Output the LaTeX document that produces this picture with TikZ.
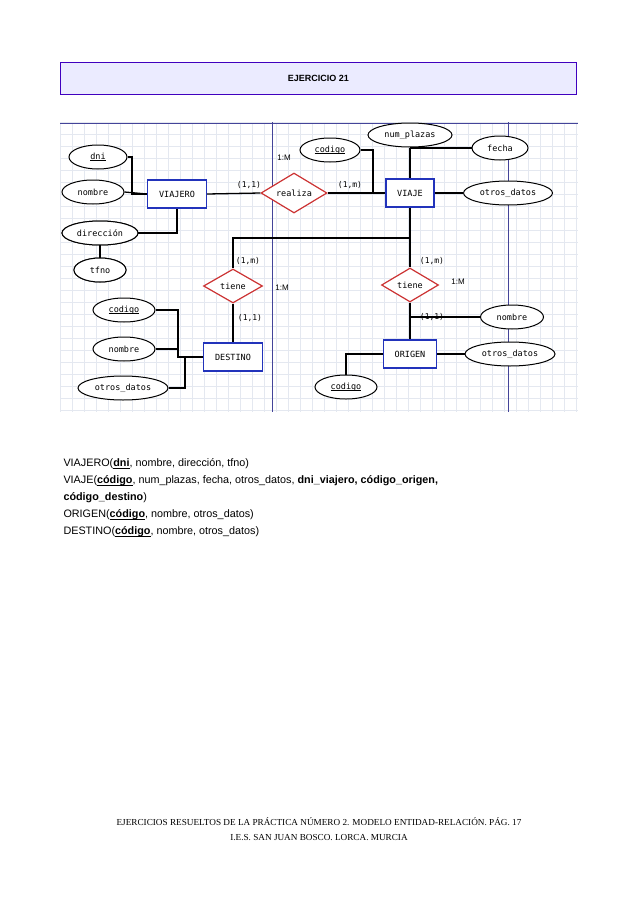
\documentclass[tikz,border=0pt]{standalone}
\usepackage{fontspec}
\setmainfont{Liberation Sans}
\newfontfamily\mono{DejaVu Sans Mono}
\newfontfamily\timesf{Liberation Serif}
\usetikzlibrary{shapes.geometric}
\definecolor{entb}{HTML}{2233BB}
\definecolor{relr}{HTML}{CC3333}
\definecolor{gridc}{HTML}{E4E8F0}
\definecolor{axisb}{HTML}{444499}
\newcommand{\myul}[1]{{\setbox0\hbox{#1}\rlap{\rule[-1.6pt]{\wd0}{0.8pt}}\box0}}
\tikzset{
 attr/.style={ellipse,draw,line width=1pt,fill=white,font=\mono\fontsize{8.5}{9}\selectfont,minimum height=24pt,inner sep=1pt},
 ent/.style={rectangle,draw=entb,line width=1.2pt,fill=white,font=\mono\fontsize{8.5}{9}\selectfont,minimum height=28pt},
 rel/.style={diamond,draw=relr,line width=1.2pt,fill=white,font=\mono\fontsize{8.5}{9}\selectfont,aspect=1.7,inner sep=1pt},
 lnk/.style={line width=1.3pt},
 card/.style={font=\mono\fontsize{8}{9}\selectfont},
 txt/.style={anchor=west,font=\fontsize{10.8}{12}\selectfont},
}
\begin{document}
\begin{tikzpicture}[x=1pt,y=-1pt]
\useasboundingbox (0,0) rectangle (638,902);
% header
\node[draw=violet!50!blue,line width=0.8pt,fill=blue!8,minimum width=516pt,minimum height=32pt,anchor=north west,font=\bfseries\fontsize{9}{10}\selectfont] (hdr) at (60,62) {EJERCICIO 21};
% grid
\foreach \gx in {60,72,...,578} \draw[gridc,line width=0.5pt] (\gx,122) -- (\gx,412);
\foreach \gy in {122,134,...,412} \draw[gridc,line width=0.5pt] (60,\gy) -- (578,\gy);
\draw[axisb,line width=0.8pt] (60,123) -- (578,123);
\draw[axisb,line width=0.8pt] (272,122) -- (272,412);
\draw[axisb,line width=0.8pt] (508,122) -- (508,412);
% nodes
\node[attr,minimum width=58pt] (dni) at (98,157) {\myul{dni}};
\node[attr,minimum width=62pt] (nom1) at (93,192) {nombre};
\node[ent,minimum width=59pt] (viajero) at (177,194) {VIAJERO};
\node[attr,minimum width=76pt] (dir) at (100,233) {dirección};
\node[attr,minimum width=52pt] (tfno) at (100,270) {tfno};
\node[rel,minimum width=66pt,minimum height=40pt] (realiza) at (294,193) {realiza};
\node[attr,minimum width=60pt] (cod1) at (330,150) {\myul{codigo}};
\node[attr,minimum width=84pt] (nump) at (410,135) {num\_plazas};
\node[attr,minimum width=56pt] (fecha) at (500,148) {fecha};
\node[ent,minimum width=48pt] (viaje) at (410,193) {VIAJE};
\node[attr,minimum width=89pt] (otr1) at (508,193) {otros\_datos};
\node[rel,minimum width=59pt,minimum height=34pt] (tiene1) at (233,286) {tiene};
\node[rel,minimum width=57pt,minimum height=34pt] (tiene2) at (410,285) {tiene};
\node[attr,minimum width=62pt] (cod2) at (124,310) {\myul{codigo}};
\node[attr,minimum width=62pt] (nom2) at (124,349) {nombre};
\node[attr,minimum width=90pt] (otr2) at (123,388) {otros\_datos};
\node[ent,minimum width=59pt] (destino) at (233,357) {DESTINO};
\node[ent,minimum width=53pt] (origen) at (410,354) {ORIGEN};
\node[attr,minimum width=63pt] (nom3) at (512,317) {nombre};
\node[attr,minimum width=90pt] (otr3) at (510,354) {otros\_datos};
\node[attr,minimum width=62pt] (cod3) at (346,387) {\myul{codigo}};
% links
\draw[lnk] (dni.east) -| (132,194) -- (viajero.west);
\draw[lnk] (nom1.east) -- (viajero.west);
\draw[lnk] (dir.center) -| (viajero.south);
\draw[lnk] (dir.center) -- (tfno.north);
\draw[lnk] (viajero.east) -- (realiza.west);
\draw[lnk] (realiza.east) -- (viaje.west);
\draw[lnk] (cod1.east) -| (373,193);
\draw[lnk] (nump.south) -- (viaje.north);
\draw[lnk] (fecha.west) -- (410,148);
\draw[lnk] (viaje.east) -- (otr1.west);
\draw[lnk] (viaje.south) -- (410,238) -| (tiene1.north);
\draw[lnk] (viaje.south) -- (tiene2.north);
\draw[lnk] (tiene1.south) -- (destino.north);
\draw[lnk] (tiene2.south) -- (origen.north);
\draw[lnk] (410,317) -- (nom3.west);
\draw[lnk] (origen.east) -- (otr3.west);
\draw[lnk] (origen.west) -| (cod3.north);
\draw[lnk] (cod2.east) -| (178,357) -- (destino.west);
\draw[lnk] (nom2.east) -- (178,349);
\draw[lnk] (otr2.east) -| (185,357);
% redraw nodes on top
\node[attr,minimum width=76pt] at (100,233) {dirección};
\node[attr,minimum width=52pt] at (100,270) {tfno};
% labels
\node[card] (c1) at (249,185) {(1,1)};
\node[card] (c2) at (350,185) {(1,m)};
\node[card] (c3) at (248,261) {(1,m)};
\node[card] (c4) at (432,261) {(1,m)};
\node[card] (c5) at (250,318) {(1,1)};
\node[card] (c6) at (432,317) {(1,1)};
\node[font=\fontsize{8}{9}\selectfont] (m1) at (284,158) {1:M};
\node[font=\fontsize{8}{9}\selectfont] (m2) at (282,288) {1:M};
\node[font=\fontsize{8}{9}\selectfont] (m3) at (458,282) {1:M};
% text
\node[txt] (t1) at (60,464) {VIAJERO(\textbf{\myul{dni}}, nombre, dirección, tfno)};
\node[txt] (t2) at (60,481) {VIAJE(\textbf{\myul{código}}, num\_plazas, fecha, otros\_datos, \textbf{dni\_viajero, código\_origen,}};
\node[txt] (t3) at (60,498) {\textbf{código\_destino})};
\node[txt] (t4) at (60,515) {ORIGEN(\textbf{\myul{código}}, nombre, otros\_datos)};
\node[txt] (t5) at (60,532) {DESTINO(\textbf{\myul{código}}, nombre, otros\_datos)};
\node[font=\timesf\fontsize{9.2}{10}\selectfont] (f1) at (319,822) {EJERCICIOS RESUELTOS DE LA PRÁCTICA NÚMERO 2. MODELO ENTIDAD-RELACIÓN. PÁG. 17};
\node[font=\timesf\fontsize{9.2}{10}\selectfont] (f2) at (319,838) {I.E.S. SAN JUAN BOSCO. LORCA. MURCIA};
\end{tikzpicture}
\end{document}
